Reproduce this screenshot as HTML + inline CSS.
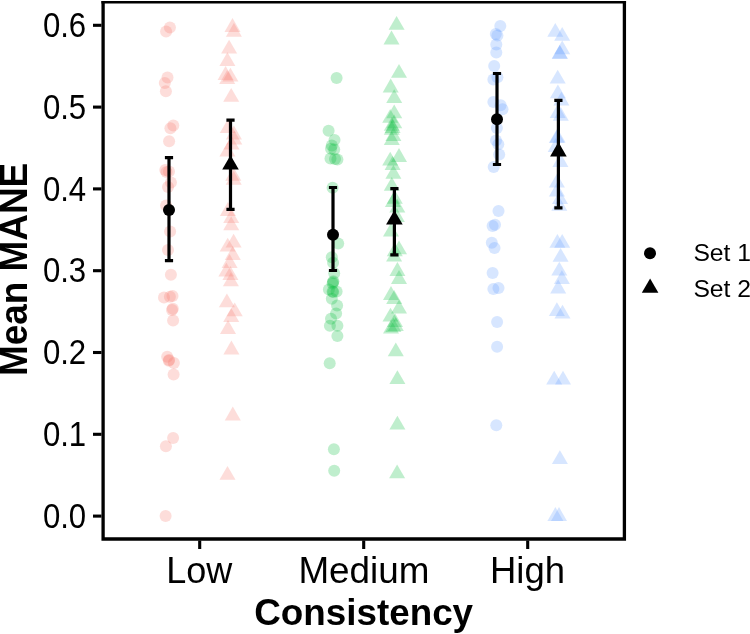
<!DOCTYPE html>
<html lang="en"><head><meta charset="utf-8"><title>Mean MANE by Consistency</title>
<style>html,body{margin:0;padding:0;background:#fff;}svg{display:block;}text{font-family:"Liberation Sans",Arial,Helvetica,sans-serif;fill:#000;}</style></head><body>
<svg width="750" height="634" viewBox="0 0 750 634">
<rect x="0" y="0" width="750" height="634" fill="#fff"/>
<g fill="#F8766D" fill-opacity="0.25">
<circle cx="169.9" cy="27.6" r="6.0"/>
<circle cx="166.1" cy="31.6" r="6.0"/>
<circle cx="167.5" cy="77.5" r="6.0"/>
<circle cx="164.8" cy="83.1" r="6.0"/>
<circle cx="165.9" cy="91.3" r="6.0"/>
<circle cx="173.3" cy="125.6" r="6.0"/>
<circle cx="170.4" cy="128.3" r="6.0"/>
<circle cx="169.1" cy="141.3" r="6.0"/>
<circle cx="165.3" cy="170.0" r="6.0"/>
<circle cx="166.5" cy="172.0" r="6.0"/>
<circle cx="169.0" cy="171.5" r="6.0"/>
<circle cx="170.9" cy="182.5" r="6.0"/>
<circle cx="168.0" cy="187.1" r="6.0"/>
<circle cx="166.1" cy="205.5" r="6.0"/>
<circle cx="170.1" cy="231.6" r="6.0"/>
<circle cx="168.0" cy="250.0" r="6.0"/>
<circle cx="170.9" cy="274.8" r="6.0"/>
<circle cx="164.0" cy="297.6" r="6.0"/>
<circle cx="169.9" cy="296.8" r="6.0"/>
<circle cx="172.5" cy="296.0" r="6.0"/>
<circle cx="172.8" cy="308.8" r="6.0"/>
<circle cx="172.0" cy="310.0" r="6.0"/>
<circle cx="173.1" cy="320.5" r="6.0"/>
<circle cx="167.2" cy="356.8" r="6.0"/>
<circle cx="169.1" cy="360.0" r="6.0"/>
<circle cx="168.8" cy="360.8" r="6.0"/>
<circle cx="173.9" cy="362.9" r="6.0"/>
<circle cx="173.6" cy="374.4" r="6.0"/>
<circle cx="173.1" cy="438.0" r="6.0"/>
<circle cx="165.9" cy="446.3" r="6.0"/>
<circle cx="165.6" cy="516.0" r="6.0"/>
</g>
<g fill="#F8766D" fill-opacity="0.25">
<polygon points="232.5,18.1 240.5,31.9 224.5,31.9"/>
<polygon points="233.9,22.9 241.9,36.7 225.9,36.7"/>
<polygon points="229.1,39.7 237.1,53.5 221.1,53.5"/>
<polygon points="227.4,52.2 235.4,66.0 219.4,66.0"/>
<polygon points="225.6,66.1 233.6,79.9 217.6,79.9"/>
<polygon points="230.4,67.7 238.4,81.5 222.4,81.5"/>
<polygon points="227.2,70.1 235.2,83.9 219.2,83.9"/>
<polygon points="231.2,88.0 239.2,101.8 223.2,101.8"/>
<polygon points="227.8,119.2 235.8,133.0 219.8,133.0"/>
<polygon points="233.9,125.6 241.9,139.4 225.9,139.4"/>
<polygon points="234.3,130.8 242.3,144.6 226.3,144.6"/>
<polygon points="231.5,135.7 239.5,149.5 223.5,149.5"/>
<polygon points="227.4,142.8 235.4,156.6 219.4,156.6"/>
<polygon points="233.3,166.9 241.3,180.7 225.3,180.7"/>
<polygon points="233.7,170.9 241.7,184.7 225.7,184.7"/>
<polygon points="227.9,202.1 235.9,215.9 219.9,215.9"/>
<polygon points="231.2,209.3 239.2,223.1 223.2,223.1"/>
<polygon points="231.2,216.5 239.2,230.3 223.2,230.3"/>
<polygon points="233.6,233.8 241.6,247.6 225.6,247.6"/>
<polygon points="227.7,237.8 235.7,251.6 219.7,251.6"/>
<polygon points="232.8,246.1 240.8,259.9 224.8,259.9"/>
<polygon points="229.6,254.1 237.6,267.9 221.6,267.9"/>
<polygon points="226.4,262.8 234.4,276.6 218.4,276.6"/>
<polygon points="230.4,266.1 238.4,279.9 222.4,279.9"/>
<polygon points="230.9,272.5 238.9,286.3 222.9,286.3"/>
<polygon points="226.9,293.4 234.9,307.2 218.9,307.2"/>
<polygon points="234.7,302.5 242.7,316.3 226.7,316.3"/>
<polygon points="231.2,308.1 239.2,321.9 223.2,321.9"/>
<polygon points="228.0,320.1 236.0,333.9 220.0,333.9"/>
<polygon points="231.4,340.6 239.4,354.4 223.4,354.4"/>
<polygon points="232.8,406.6 240.8,420.4 224.8,420.4"/>
<polygon points="227.5,466.0 235.5,479.8 219.5,479.8"/>
</g>
<g fill="#00BA38" fill-opacity="0.25">
<circle cx="336.6" cy="78.0" r="6.0"/>
<circle cx="328.6" cy="130.7" r="6.0"/>
<circle cx="334.5" cy="140.0" r="6.0"/>
<circle cx="331.8" cy="145.6" r="6.0"/>
<circle cx="331.0" cy="148.8" r="6.0"/>
<circle cx="334.2" cy="149.6" r="6.0"/>
<circle cx="330.5" cy="158.4" r="6.0"/>
<circle cx="335.0" cy="158.9" r="6.0"/>
<circle cx="337.4" cy="159.5" r="6.0"/>
<circle cx="332.6" cy="187.7" r="6.0"/>
<circle cx="338.2" cy="243.6" r="6.0"/>
<circle cx="331.8" cy="257.2" r="6.0"/>
<circle cx="333.1" cy="262.8" r="6.0"/>
<circle cx="334.2" cy="273.2" r="6.0"/>
<circle cx="333.4" cy="281.2" r="6.0"/>
<circle cx="332.6" cy="283.6" r="6.0"/>
<circle cx="333.0" cy="282.3" r="6.0"/>
<circle cx="333.2" cy="291.9" r="6.0"/>
<circle cx="328.9" cy="289.6" r="6.0"/>
<circle cx="336.6" cy="291.6" r="6.0"/>
<circle cx="332.6" cy="291.6" r="6.0"/>
<circle cx="331.8" cy="298.8" r="6.0"/>
<circle cx="337.1" cy="305.5" r="6.0"/>
<circle cx="336.1" cy="313.5" r="6.0"/>
<circle cx="331.0" cy="318.8" r="6.0"/>
<circle cx="329.9" cy="325.7" r="6.0"/>
<circle cx="337.4" cy="325.7" r="6.0"/>
<circle cx="337.4" cy="335.9" r="6.0"/>
<circle cx="329.7" cy="363.3" r="6.0"/>
<circle cx="333.9" cy="449.2" r="6.0"/>
<circle cx="334.2" cy="470.8" r="6.0"/>
</g>
<g fill="#00BA38" fill-opacity="0.25">
<polygon points="396.6,16.0 404.6,29.8 388.6,29.8"/>
<polygon points="391.5,30.6 399.5,44.4 383.5,44.4"/>
<polygon points="399.0,64.0 407.0,77.8 391.0,77.8"/>
<polygon points="390.7,78.6 398.7,92.4 382.7,92.4"/>
<polygon points="394.2,89.3 402.2,103.1 386.2,103.1"/>
<polygon points="394.2,104.5 402.2,118.3 386.2,118.3"/>
<polygon points="390.2,108.9 398.2,122.7 382.2,122.7"/>
<polygon points="394.2,114.5 402.2,128.3 386.2,128.3"/>
<polygon points="391.8,116.9 399.8,130.7 383.8,130.7"/>
<polygon points="392.6,119.3 400.6,133.1 384.6,133.1"/>
<polygon points="391.8,120.9 399.8,134.7 383.8,134.7"/>
<polygon points="393.4,127.3 401.4,141.1 385.4,141.1"/>
<polygon points="391.8,131.3 399.8,145.1 383.8,145.1"/>
<polygon points="399.0,148.1 407.0,161.9 391.0,161.9"/>
<polygon points="390.2,151.8 398.2,165.6 382.2,165.6"/>
<polygon points="392.6,156.1 400.6,169.9 384.6,169.9"/>
<polygon points="393.4,164.9 401.4,178.7 385.4,178.7"/>
<polygon points="391.8,176.9 399.8,190.7 383.8,190.7"/>
<polygon points="394.8,190.0 402.8,203.8 386.8,203.8"/>
<polygon points="392.9,193.3 400.9,207.1 384.9,207.1"/>
<polygon points="397.3,198.7 405.3,212.5 389.3,212.5"/>
<polygon points="396.8,208.1 404.8,221.9 388.8,221.9"/>
<polygon points="391.0,222.7 399.0,236.5 383.0,236.5"/>
<polygon points="399.0,240.5 407.0,254.3 391.0,254.3"/>
<polygon points="394.1,247.7 402.1,261.5 386.1,261.5"/>
<polygon points="394.8,242.5 402.8,256.3 386.8,256.3"/>
<polygon points="397.4,262.1 405.4,275.9 389.4,275.9"/>
<polygon points="399.0,270.1 407.0,283.9 391.0,283.9"/>
<polygon points="391.0,286.1 399.0,299.9 383.0,299.9"/>
<polygon points="394.2,290.1 402.2,303.9 386.2,303.9"/>
<polygon points="399.0,299.7 407.0,313.5 391.0,313.5"/>
<polygon points="390.5,307.7 398.5,321.5 382.5,321.5"/>
<polygon points="395.0,313.3 403.0,327.1 387.0,327.1"/>
<polygon points="395.8,317.3 403.8,331.1 387.8,331.1"/>
<polygon points="391.0,319.7 399.0,333.5 383.0,333.5"/>
<polygon points="393.4,318.1 401.4,331.9 385.4,331.9"/>
<polygon points="395.8,342.4 403.8,356.2 387.8,356.2"/>
<polygon points="397.4,370.3 405.4,384.1 389.4,384.1"/>
<polygon points="397.4,415.8 405.4,429.6 389.4,429.6"/>
<polygon points="397.1,464.4 405.1,478.2 389.1,478.2"/>
</g>
<g fill="#619CFF" fill-opacity="0.25">
<circle cx="500.3" cy="26.0" r="6.0"/>
<circle cx="495.8" cy="34.0" r="6.0"/>
<circle cx="497.4" cy="35.6" r="6.0"/>
<circle cx="496.3" cy="44.4" r="6.0"/>
<circle cx="496.3" cy="52.4" r="6.0"/>
<circle cx="494.2" cy="66.0" r="6.0"/>
<circle cx="493.4" cy="79.6" r="6.0"/>
<circle cx="497.4" cy="77.2" r="6.0"/>
<circle cx="493.4" cy="102.0" r="6.0"/>
<circle cx="500.6" cy="105.2" r="6.0"/>
<circle cx="502.5" cy="109.2" r="6.0"/>
<circle cx="496.9" cy="128.0" r="6.0"/>
<circle cx="498.3" cy="144.2" r="6.0"/>
<circle cx="496.0" cy="140.6" r="6.0"/>
<circle cx="499.2" cy="154.6" r="6.0"/>
<circle cx="493.7" cy="166.9" r="6.0"/>
<circle cx="498.5" cy="211.1" r="6.0"/>
<circle cx="492.6" cy="226.0" r="6.0"/>
<circle cx="495.0" cy="224.7" r="6.0"/>
<circle cx="491.8" cy="242.8" r="6.0"/>
<circle cx="494.5" cy="247.9" r="6.0"/>
<circle cx="492.6" cy="272.9" r="6.0"/>
<circle cx="493.4" cy="288.9" r="6.0"/>
<circle cx="498.5" cy="287.9" r="6.0"/>
<circle cx="497.1" cy="322.0" r="6.0"/>
<circle cx="497.1" cy="346.8" r="6.0"/>
<circle cx="496.3" cy="425.2" r="6.0"/>
</g>
<g fill="#619CFF" fill-opacity="0.25">
<polygon points="555.3,22.9 563.3,36.7 547.3,36.7"/>
<polygon points="562.2,26.9 570.2,40.7 554.2,40.7"/>
<polygon points="562.2,40.5 570.2,54.3 554.2,54.3"/>
<polygon points="559.8,44.8 567.8,58.6 551.8,58.6"/>
<polygon points="559.8,45.3 567.8,59.1 551.8,59.1"/>
<polygon points="557.7,69.8 565.7,83.6 549.7,83.6"/>
<polygon points="557.9,84.5 565.9,98.3 549.9,98.3"/>
<polygon points="561.4,91.7 569.4,105.5 553.4,105.5"/>
<polygon points="557.7,104.1 565.7,117.9 549.7,117.9"/>
<polygon points="560.8,106.9 568.8,120.7 552.8,120.7"/>
<polygon points="557.6,128.8 565.6,142.6 549.6,142.6"/>
<polygon points="556.8,129.2 564.8,143.0 548.8,143.0"/>
<polygon points="555.7,138.1 563.7,151.9 547.7,151.9"/>
<polygon points="560.4,153.1 568.4,166.9 552.4,166.9"/>
<polygon points="556.9,173.8 564.9,187.6 548.9,187.6"/>
<polygon points="556.9,182.7 564.9,196.5 548.9,196.5"/>
<polygon points="560.0,190.3 568.0,204.1 552.0,204.1"/>
<polygon points="559.3,197.0 567.3,210.8 551.3,210.8"/>
<polygon points="557.4,234.0 565.4,247.8 549.4,247.8"/>
<polygon points="562.2,234.0 570.2,247.8 554.2,247.8"/>
<polygon points="560.6,247.9 568.6,261.7 552.6,261.7"/>
<polygon points="559.3,261.7 567.3,275.5 551.3,275.5"/>
<polygon points="561.9,270.3 569.9,284.1 553.9,284.1"/>
<polygon points="558.2,279.6 566.2,293.4 550.2,293.4"/>
<polygon points="556.9,302.3 564.9,316.1 548.9,316.1"/>
<polygon points="562.5,304.7 570.5,318.5 554.5,318.5"/>
<polygon points="554.2,370.8 562.2,384.6 546.2,384.6"/>
<polygon points="563.0,370.8 571.0,384.6 555.0,384.6"/>
<polygon points="559.9,450.2 567.9,464.0 551.9,464.0"/>
<polygon points="555.4,507.1 563.4,520.9 547.4,520.9"/>
<polygon points="559.0,507.1 567.0,520.9 551.0,520.9"/>
</g>
<g stroke="#000" stroke-width="3.2" fill="none">
<path d="M164.9 157.6H173.1M169.0 157.6V260.7M164.9 260.7H173.1"/>
<path d="M226.4 120.2H234.6M230.5 120.2V209.4M226.4 209.4H234.6"/>
<path d="M328.9 187.5H337.1M333.0 187.5V270.5M328.9 270.5H337.1"/>
<path d="M390.3 188.6H398.5M394.4 188.6V254.8M390.3 254.8H398.5"/>
<path d="M492.9 73.5H501.1M497.0 73.5V164.5M492.9 164.5H501.1"/>
<path d="M554.3 100.3H562.5M558.4 100.3V207.8M554.3 207.8H562.5"/>
</g>
<g fill="#000">
<circle cx="169.0" cy="210.0" r="6.0"/>
<polygon points="230.5,155.2 238.8,169.6 222.2,169.6"/>
<circle cx="333.0" cy="234.8" r="6.0"/>
<polygon points="394.4,210.2 402.7,224.6 386.1,224.6"/>
<circle cx="497.0" cy="119.2" r="6.0"/>
<polygon points="558.4,142.0 566.7,156.4 550.1,156.4"/>
</g>
<path d="M103.1 1V539H624.4V1" fill="none" stroke="#000" stroke-width="3.3" stroke-linejoin="miter"/>
<path d="M101.45 2.25H626.05" fill="none" stroke="#000" stroke-width="2.6"/>
<g stroke="#000" stroke-width="3.1">
<path d="M93 516.1H101.5"/>
<path d="M93 434.3H101.5"/>
<path d="M93 352.5H101.5"/>
<path d="M93 270.7H101.5"/>
<path d="M93 188.9H101.5"/>
<path d="M93 107.1H101.5"/>
<path d="M93 25.3H101.5"/>
<path d="M199.7 540.5V549"/>
<path d="M363.7 540.5V549"/>
<path d="M527.7 540.5V549"/>
</g>
<g font-size="34.9" text-anchor="end">
<text transform="translate(86.2 527.7) scale(0.893 1)">0.0</text>
<text transform="translate(86.2 445.9) scale(0.893 1)">0.1</text>
<text transform="translate(86.2 364.1) scale(0.893 1)">0.2</text>
<text transform="translate(86.2 282.3) scale(0.893 1)">0.3</text>
<text transform="translate(86.2 200.5) scale(0.893 1)">0.4</text>
<text transform="translate(86.2 118.7) scale(0.893 1)">0.5</text>
<text transform="translate(86.2 36.9) scale(0.893 1)">0.6</text>
</g>
<g font-size="36" text-anchor="middle">
<text x="199.3" y="582.6">Low</text>
<text x="363.9" y="582.6" textLength="131" lengthAdjust="spacingAndGlyphs">Medium</text>
<text x="527.5" y="582.6" textLength="75" lengthAdjust="spacingAndGlyphs">High</text>
</g>
<text x="363.7" y="625" font-size="36.8" font-weight="bold" text-anchor="middle">Consistency</text>
<text transform="translate(27.2 269.4) rotate(-90)" font-size="38.4" font-weight="bold" text-anchor="middle" textLength="213" lengthAdjust="spacingAndGlyphs">Mean MANE</text>
<circle cx="650" cy="253.2" r="6.0" fill="#000"/>
<polygon points="650.1,278.4 658.4,292.8 641.8,292.8" fill="#000"/>
<text x="693.4" y="261.4" font-size="24.7">Set 1</text>
<text x="693.4" y="297.0" font-size="24.7">Set 2</text>
</svg></body></html>
